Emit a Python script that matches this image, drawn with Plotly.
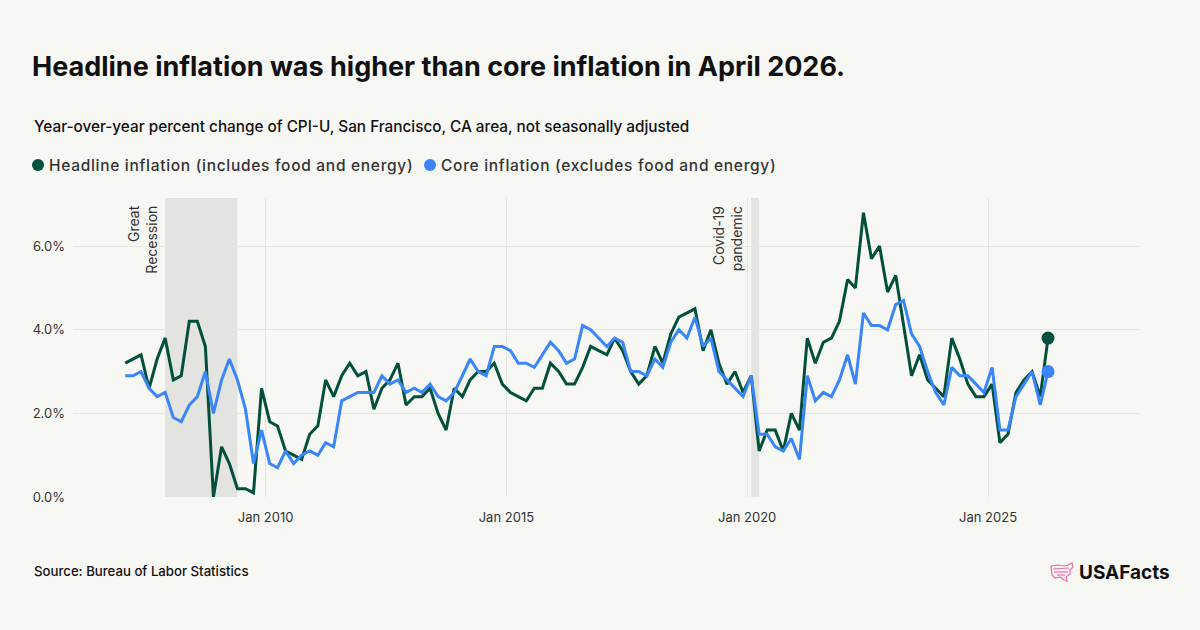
import plotly.graph_objects as go
import pandas as pd

# ---- data (bimonthly, Feb 2007 - Apr 2026) ----
dates = pd.date_range("2007-02-01", "2026-04-01", freq="2MS")
headline = [
    3.2, 3.3, 3.4, 2.6, 3.3, 3.8,   # 2007
    2.8, 2.9, 4.2, 4.2, 3.6, 0.0,   # 2008
    1.2, 0.8, 0.2, 0.2, 0.1, 2.6,   # 2009
    1.8, 1.7, 1.1, 1.0, 0.9, 1.5,   # 2010
    1.7, 2.8, 2.4, 2.9, 3.2, 2.9,   # 2011
    3.0, 2.1, 2.6, 2.8, 3.2, 2.2,   # 2012
    2.4, 2.4, 2.6, 2.0, 1.6, 2.6,   # 2013
    2.4, 2.8, 3.0, 3.0, 3.2, 2.7,   # 2014
    2.5, 2.4, 2.3, 2.6, 2.6, 3.2,   # 2015
    3.0, 2.7, 2.7, 3.1, 3.6, 3.5,   # 2016
    3.4, 3.8, 3.5, 3.0, 2.7, 2.9,   # 2017
    3.6, 3.2, 3.9, 4.3, 4.4, 4.5,   # 2018
    3.5, 4.0, 3.2, 2.7, 3.0, 2.5,   # 2019
    2.9, 1.1, 1.6, 1.6, 1.1, 2.0,   # 2020
    1.6, 3.8, 3.2, 3.7, 3.8, 4.2,   # 2021
    5.2, 5.0, 6.8, 5.7, 6.0, 4.9,   # 2022
    5.3, 4.1, 2.9, 3.4, 2.8, 2.6,   # 2023
    2.4, 3.8, 3.3, 2.7, 2.4, 2.4,   # 2024
    2.7, 1.3, 1.5, 2.5, 2.8, 3.0,   # 2025
    2.4, 3.8,                       # 2026
]
core = [
    2.9, 2.9, 3.0, 2.6, 2.4, 2.5,   # 2007
    1.9, 1.8, 2.2, 2.4, 3.0, 2.0,   # 2008
    2.8, 3.3, 2.8, 2.1, 0.8, 1.6,   # 2009
    0.8, 0.7, 1.1, 0.8, 1.0, 1.1,   # 2010
    1.0, 1.3, 1.2, 2.3, 2.4, 2.5,   # 2011
    2.5, 2.5, 2.9, 2.7, 2.8, 2.5,   # 2012
    2.6, 2.5, 2.7, 2.4, 2.3, 2.5,   # 2013
    2.9, 3.3, 3.0, 2.9, 3.6, 3.6,   # 2014
    3.5, 3.2, 3.2, 3.1, 3.4, 3.7,   # 2015
    3.5, 3.2, 3.3, 4.1, 4.0, 3.8,   # 2016
    3.6, 3.8, 3.7, 3.0, 3.0, 2.9,   # 2017
    3.3, 3.1, 3.7, 4.0, 3.8, 4.3,   # 2018
    3.6, 3.8, 3.0, 2.8, 2.6, 2.4,   # 2019
    2.9, 1.5, 1.5, 1.2, 1.1, 1.4,   # 2020
    0.9, 2.9, 2.3, 2.5, 2.4, 2.8,   # 2021
    3.4, 2.7, 4.4, 4.1, 4.1, 4.0,   # 2022
    4.6, 4.7, 3.9, 3.6, 3.0, 2.5,   # 2023
    2.2, 3.1, 2.9, 2.9, 2.7, 2.5,   # 2024
    3.1, 1.6, 1.6, 2.4, 2.7, 3.0,   # 2025
    2.2, 3.0,                       # 2026
]
series_names = ["Headline inflation (includes food and energy)",
                "Core inflation (excludes food and energy)"]
x_tick_dates = ["2010-01-01", "2015-01-01", "2020-01-01", "2025-01-01"]
y_ticks = [0, 2, 4, 6]
y_tick_text = ["0.0%", "2.0%", "4.0%", "6.0%"]
events = [("Great<br>Recession", "2007-12-01", "2009-06-01"),
          ("Covid-19<br>pandemic", "2020-02-01", "2020-04-01")]

# ---- style ----
GREEN = "#02503B"
BLUE = "#3A86F8"
BG = "#F7F7F4"
GRID = "#E5E5E3"
SHADE = "#E3E3DF"
TXT = "#333333"
FONT = "Inter"

W, H = 1200, 630
L, R, T, B = 73, 1139, 198, 497


def px(x):
    return (x - L) / (R - L)


def py(y):
    return (B - y) / (B - T)


fig = go.Figure()
for name, vals, col in [(series_names[0], headline, GREEN), (series_names[1], core, BLUE)]:
    fig.add_trace(go.Scatter(x=dates, y=vals, mode="lines", name=name,
                             line=dict(color=col, width=3), showlegend=False))
for name, vals, col in [(series_names[0], headline, GREEN), (series_names[1], core, BLUE)]:
    fig.add_trace(go.Scatter(x=[dates[-1]], y=[vals[-1]], mode="markers", name=name,
                             marker=dict(color=col, size=13), showlegend=False))

shapes = []
annotations = []
for label, d0, d1 in events:
    shapes.append(dict(type="rect", xref="x", yref="paper", x0=d0, x1=d1, y0=0, y1=1,
                       fillcolor=SHADE, line=dict(width=0), layer="below"))
    annotations.append(dict(text=label, xref="x", yref="paper", x=d0, y=1,
                            xanchor="right", yanchor="top", xshift=-4, yshift=-6,
                            textangle=-90, align="right", showarrow=False,
                            font=dict(family=FONT, size=14, color=TXT)))

# legend (custom)
for cx, txt_x, col, name in [(38, 47, GREEN, series_names[0]), (430, 439, BLUE, series_names[1])]:
    shapes.append(dict(type="circle", xref="paper", yref="paper",
                       xsizemode="pixel", ysizemode="pixel",
                       xanchor=px(cx), yanchor=py(165), x0=-6, x1=6, y0=-6, y1=6,
                       fillcolor=col, line=dict(width=0)))
    annotations.append(dict(text=f'<span style="letter-spacing:0.7px">{name}</span>',
                            xref="paper", yref="paper", x=px(txt_x), y=py(165),
                            xanchor="left", yanchor="middle", showarrow=False,
                            font=dict(family=FONT, size=15.5, color=TXT, weight=500)))

annotations.append(dict(text="Year-over-year percent change of CPI-U, San Francisco, CA area, not seasonally adjusted",
                        xref="paper", yref="paper", x=px(32), y=py(127), xanchor="left", yanchor="middle",
                        showarrow=False, font=dict(family=FONT, size=15.3, color="#111111", weight=500)))
annotations.append(dict(text="Source: Bureau of Labor Statistics",
                        xref="paper", yref="paper", x=px(32), y=py(571), xanchor="left", yanchor="middle",
                        showarrow=False, font=dict(family=FONT, size=13.2, color="#111111", weight=500)))
annotations.append(dict(text="USAFacts", xref="paper", yref="paper", x=px(1077), y=py(572),
                        xanchor="left", yanchor="middle", showarrow=False,
                        font=dict(family=FONT, size=19, color="#111111", weight=700)))

# logo icon (simple US outline, pink)
outline = [(1051, 566), (1058, 565), (1066, 566), (1072, 563), (1073, 567), (1070, 570),
           (1070, 574), (1066, 577), (1067, 581), (1064, 580), (1060, 577), (1055, 578),
           (1052, 575)]
path = "M " + " L ".join(f"{px(a):.5f},{py(b):.5f}" for a, b in outline) + " Z"
shapes.append(dict(type="path", xref="paper", yref="paper", path=path,
                   line=dict(color="#F06BA8", width=1.2), fillcolor="rgba(0,0,0,0)"))
for (a0, b0, a1, b1) in [(1053, 569, 1069, 568), (1054, 572, 1068, 572), (1057, 575, 1065, 575)]:
    shapes.append(dict(type="line", xref="paper", yref="paper", x0=px(a0), y0=py(b0), x1=px(a1), y1=py(b1),
                       line=dict(color="#F06BA8", width=1.2)))

fig.update_layout(
    width=W, height=H,
    paper_bgcolor=BG, plot_bgcolor=BG,
    margin=dict(l=L, r=W - R, t=T, b=H - B),
    title=dict(text="Headline inflation was higher than core inflation in April 2026.",
               xref="container", yref="container", x=32 / W, y=1 - 67 / H,
               xanchor="left", yanchor="middle",
               font=dict(family=FONT, size=27, color="#111111", weight=700)),
    shapes=shapes, annotations=annotations,
    xaxis=dict(type="date", range=["2006-01-01", "2028-02-20"], tickvals=x_tick_dates,
               tickformat="%b %Y", showgrid=True, gridcolor=GRID, gridwidth=1,
               zeroline=False, showline=False, ticks="", ticklabelstandoff=11,
               tickfont=dict(family=FONT, size=13, color=TXT)),
    yaxis=dict(range=[0, 7.15], tickmode="array", tickvals=y_ticks, ticktext=y_tick_text,
               showgrid=True, gridcolor=GRID, gridwidth=1, zeroline=False, showline=False,
               ticks="", ticklabelstandoff=7,
               tickfont=dict(family=FONT, size=13, color=TXT)),
    hovermode=False,
)

fig.write_html("out.html")
